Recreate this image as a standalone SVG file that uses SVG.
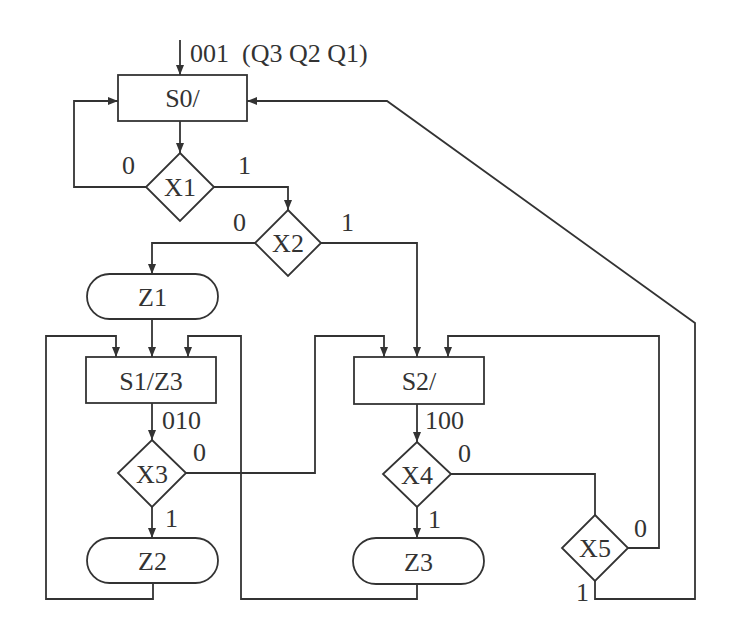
<svg xmlns="http://www.w3.org/2000/svg" width="751" height="633" viewBox="0 0 751 633">
<style>
.n{fill:#fff;stroke:#333;stroke-width:1.8}
.c{fill:none;stroke:#333;stroke-width:1.8}
text{font-family:"Liberation Serif","Times New Roman",serif;font-size:26px;fill:#333}
.m{text-anchor:middle}
</style>
<defs>
<marker id="ah" markerUnits="userSpaceOnUse" markerWidth="10" markerHeight="8" refX="10" refY="4" orient="auto">
<path d="M0,0 L10,4 L0,8 z" fill="#333"/>
</marker>
</defs>
<rect width="751" height="633" fill="#fff"/>
<g id="connectors">
<path class="c" d="M180,40 V75" marker-end="url(#ah)"/>
<path class="c" d="M180,121 V153" marker-end="url(#ah)"/>
<path class="c" d="M146,187 H74 V101 H118" marker-end="url(#ah)"/>
<path class="c" d="M214,187 H288 V210" marker-end="url(#ah)"/>
<path class="c" d="M255,243 H152 V274" marker-end="url(#ah)"/>
<path class="c" d="M321,243 H417 V357" marker-end="url(#ah)"/>
<path class="c" d="M152,319 V357" marker-end="url(#ah)"/>
<path class="c" d="M152,403 V440" marker-end="url(#ah)"/>
<path class="c" d="M152,507 V538" marker-end="url(#ah)"/>
<path class="c" d="M153,583 V599 H46 V336 H116 V357" marker-end="url(#ah)"/>
<path class="c" d="M417,584 V599 H241 V336 H188 V357" marker-end="url(#ah)"/>
<path class="c" d="M186,473 H315 V336 H384 V357" marker-end="url(#ah)"/>
<path class="c" d="M417,404 V442" marker-end="url(#ah)"/>
<path class="c" d="M417,507 V538" marker-end="url(#ah)"/>
<path class="c" d="M451,474 H595 V515"/>
<path class="c" d="M628,548 H659 V336 H448 V357" marker-end="url(#ah)"/>
<path class="c" d="M595,581 V599 H695 V323 L387,101 H247" marker-end="url(#ah)"/>
<text x="190" y="62" style="white-space:pre">001  (Q3 Q2 Q1)</text>
<text x="122" y="174">0</text>
<text x="238" y="174">1</text>
<text x="233" y="231">0</text>
<text x="341" y="231">1</text>
<text x="162" y="429">010</text>
<text x="193" y="461">0</text>
<text x="165" y="527">1</text>
<text x="425" y="429">100</text>
<text x="458" y="462">0</text>
<text x="428" y="528">1</text>
<text x="634" y="537">0</text>
<text x="576" y="601">1</text>
</g>
<g id="S0"><rect class="n" x="118" y="75" width="129" height="46"/><text class="m" x="182.5" y="107">S0/</text></g>
<g id="X1"><path class="n" d="M180,153 L214,187 L180,221 L146,187 z"/><text class="m" x="180" y="196">X1</text></g>
<g id="X2"><path class="n" d="M288,210 L321,243 L288,276 L255,243 z"/><text class="m" x="288" y="252">X2</text></g>
<g id="Z1"><rect class="n" x="87" y="274" width="131" height="45" rx="22.5"/><text class="m" x="152.5" y="306">Z1</text></g>
<g id="S1"><rect class="n" x="86" y="357" width="130" height="46"/><text class="m" x="151" y="390">S1/Z3</text></g>
<g id="X3"><path class="n" d="M152,440 L186,473 L152,507 L118,473 z"/><text class="m" x="152" y="483">X3</text></g>
<g id="Z2"><rect class="n" x="87" y="538" width="131" height="45" rx="22.5"/><text class="m" x="152.5" y="570">Z2</text></g>
<g id="S2"><rect class="n" x="354" y="357" width="130" height="47"/><text class="m" x="419" y="390">S2/</text></g>
<g id="X4"><path class="n" d="M417,442 L451,474 L417,507 L383,474 z"/><text class="m" x="417" y="484">X4</text></g>
<g id="Z3"><rect class="n" x="353" y="538" width="131" height="46" rx="23"/><text class="m" x="418.5" y="571">Z3</text></g>
<g id="X5"><path class="n" d="M595,515 L628,548 L595,581 L562,548 z"/><text class="m" x="595" y="557">X5</text></g>
</svg>
